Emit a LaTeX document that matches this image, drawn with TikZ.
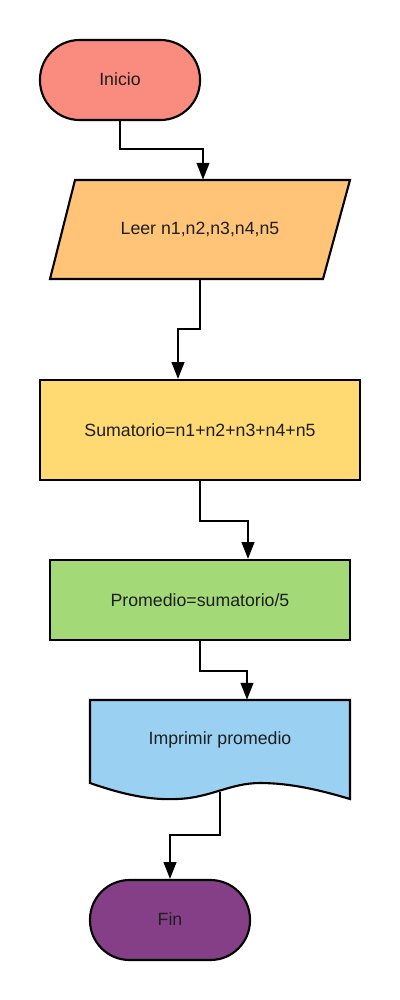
\documentclass[tikz,border=0pt]{standalone}
\usepackage{fontspec}
\setmainfont{Liberation Sans}
\usetikzlibrary{arrows.meta,positioning}
\definecolor{cini}{HTML}{F98B7F}
\definecolor{cleer}{HTML}{FFC478}
\definecolor{csum}{HTML}{FFDA73}
\definecolor{cprom}{HTML}{A4D978}
\definecolor{cdoc}{HTML}{9AD1F2}
\definecolor{cfin}{HTML}{853F87}
\definecolor{ctext}{HTML}{1E1E1E}
\tikzset{
  shp/.style={draw=black, line width=1.5pt, text=ctext, font=\fontsize{12.6}{15}\selectfont, inner sep=0pt},
  term/.style={shp, rectangle, rounded corners=0.99cm, minimum width=4cm, minimum height=2cm},
  procbox/.style={shp, rectangle},
  lbl/.style={text=ctext, font=\fontsize{12.6}{15}\selectfont, inner sep=0pt, rectangle},
  arr/.style={line width=1.5pt, -{Triangle[length=12pt,width=9pt]}},
}
\begin{document}
\begin{tikzpicture}[x=0.025cm,y=-0.025cm]
\useasboundingbox (0,0) rectangle (400,1000);
% Inicio
\node[term, fill=cini] (ini) at (120,80) {\raisebox{1.5pt}{Inicio}};
% Leer (parallelogram)
\path[shp, fill=cleer] (75,180) -- (350,180) -- (323,279) -- (50,279) -- cycle;
\node[lbl, minimum width=7.5cm, minimum height=2.475cm] (leer) at (200,229.5) {Leer n1,n2,n3,n4,n5};
% Sumatorio
\node[procbox, fill=csum, minimum width=8cm, minimum height=2.5cm] (sum) at (200,430) {Sumatorio=n1+n2+n3+n4+n5};
% Promedio
\node[procbox, fill=cprom, minimum width=7.5cm, minimum height=2cm] (prom) at (200,600) {Promedio=sumatorio/5};
% Documento
\path[shp, fill=cdoc] (90,700) -- (350,700) -- (350,799)
  .. controls (320,790) and (290,783) .. (260,783)
  .. controls (230,783) and (210,798) .. (177,799)
  .. controls (155,800) and (130,797) .. (90,783) -- cycle;
\node[lbl, minimum width=6.5cm, minimum height=2.5cm] (doc) at (220,750) {};
\node[lbl] (doctext) at (220,740) {Imprimir promedio};
\coordinate (docb) at (220,792);
% Fin
\node[term, fill=cfin] (fin) at (170,920) {\raisebox{1pt}{Fin}};
% Connectors
\draw[arr] (ini.south) -- ++(0,28) -| ([shift={(3,0)}]leer.north);
\draw[arr] (leer.south) -- ++(0,50) -| ([shift={(-22,0)}]sum.north);
\draw[arr] (sum.south) -- ++(0,40) -| ([shift={(48,0)}]prom.north);
\draw[arr] (prom.south) -- ++(0,30) -| ([shift={(27,0)}]doc.north);
\draw[arr] (docb) -- ++(0,43) -| (fin.north);
\end{tikzpicture}
\end{document}
